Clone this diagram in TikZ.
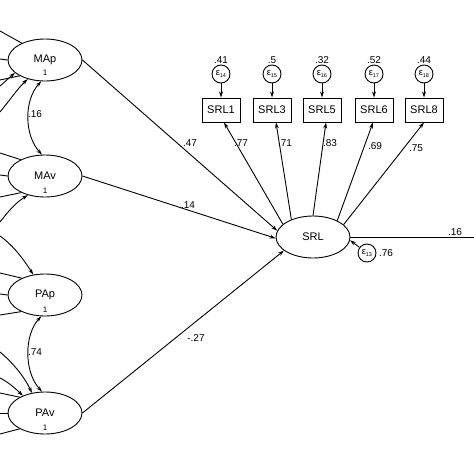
\documentclass[tikz,border=0pt]{standalone}
\usepackage{fontspec}
\setmainfont{Liberation Sans}
\usetikzlibrary{arrows.meta,shapes.geometric}
\newcommand\epslab[1]{ε\kern-0.3pt\raisebox{-0.55ex}{\fontsize{5.5}{5.5}\selectfont #1}}
\begin{document}
\begin{tikzpicture}[x=1pt,y=-1pt,
  line width=0.9pt,
  lat/.style={draw,ellipse,minimum width=74pt,minimum height=42pt,inner sep=0pt,font=\fontsize{11}{12}\selectfont},
  obs/.style={draw,rectangle,minimum width=38pt,minimum height=24pt,inner sep=0pt,font=\fontsize{11}{12}\selectfont},
  err/.style={draw,circle,minimum size=18pt,inner sep=0pt,font=\fontsize{9.5}{9.5}\selectfont},
  coef/.style={font=\fontsize{10}{10}\selectfont,inner sep=0pt},
  one/.style={font=\fontsize{8}{8}\selectfont,inner sep=0pt},
  arr/.style={-{Stealth[length=6pt,width=3.8pt]}},
  darr/.style={{Stealth[length=6pt,width=3.8pt]}-{Stealth[length=6pt,width=3.8pt]}},
]
\useasboundingbox (0,0) rectangle (474,474);

% latent variables on the left
\node[lat] (MAp) at (45,60) {MAp};
\node[lat] (MAv) at (45,176) {MAv};
\node[lat] (PAp) at (45,295) {PAp};
\node[lat] (PAv) at (45,413) {PAv};
\node[one] (oMAp) at (45,73) {1};
\node[one] (oMAv) at (45,191) {1};
\node[one] (oPAp) at (45,310) {1};
\node[one] (oPAv) at (45,428) {1};

% SRL and its indicators
\node[lat] (SRL) at (313,237) {SRL};
\node[obs] (S1) at (221,110) {SRL1};
\node[obs] (S3) at (272,110) {SRL3};
\node[obs] (S5) at (322,110) {SRL5};
\node[obs] (S6) at (374,110) {SRL6};
\node[obs] (S8) at (424,110) {SRL8};
\node[err] (e14) at (221,74) {\epslab{14}};
\node[err] (e15) at (272,74) {\epslab{15}};
\node[err] (e16) at (322,74) {\epslab{16}};
\node[err] (e17) at (374,74) {\epslab{17}};
\node[err] (e18) at (424,74) {\epslab{18}};
\node[err] (e13) at (367,253) {\epslab{13}};
\node[coef] (v14) at (221,60) {.41};
\node[coef] (v15) at (272,60) {.5};
\node[coef] (v16) at (322,60) {.32};
\node[coef] (v17) at (374,60) {.52};
\node[coef] (v18) at (424,60) {.44};
\node[coef] (v13) at (386,253) {.76};

\foreach \e/\s in {e14/S1,e15/S3,e16/S5,e17/S6,e18/S8}
  \draw[arr] (\e) -- (\s);
\draw[arr] (e13) -- (SRL.-5);

% loadings
\draw[arr] (SRL.157) -- ([xshift=3pt]S1.south);
\draw[arr] (SRL.141) -- ([xshift=4pt]S3.south);
\draw[arr] (SRL.90) -- ([xshift=4pt]S5.south);
\draw[arr] (SRL.34) -- ([xshift=-1pt]S6.south);
\draw[arr] (SRL.22) -- (S8.south);
\node[coef] (l1) at (241,143) {.77};
\node[coef] (l3) at (285,143) {.71};
\node[coef] (l5) at (330,143) {.83};
\node[coef] (l6) at (375,146) {.69};
\node[coef] (l8) at (416,148) {.75};

% structural paths
\draw[arr] (MAp.east) -- (SRL.170);
\draw[arr] (MAv.east) -- (SRL.182);
\draw[arr] (PAv.east) -- (SRL.205);
\node[coef] (p1) at (190,143) {.47};
\node[coef] (p2) at (188,205) {.14};
\node[coef] (p3) at (196,338) {-.27};

% outcome path
\coordinate (out) at (474,237);
\draw (SRL.east) -- (out);
\node[coef] (p4) at (455,232) {.16};

% covariances between left latents
\draw[darr] (MAp.-100) .. controls (24,100) and (24,135) .. (MAv.98);
\draw[darr] (PAp.-100) .. controls (24,335) and (24,372) .. (PAv.98);
\node[coef] (c1) at (35,114) {.16};
\node[coef] (c2) at (35,352) {.74};

% partial connectors leaving the picture on the left
\coordinate (a1) at (0,31);  \coordinate (a2) at (0,59);  \coordinate (a3) at (0,80);
\coordinate (b1) at (0,153); \coordinate (b2) at (0,175); \coordinate (b3) at (0,197);
\coordinate (d1) at (0,273); \coordinate (d2) at (0,294); \coordinate (d3) at (0,315);
\coordinate (f1) at (0,393); \coordinate (f2) at (0,413); \coordinate (f3) at (0,434);
\draw (a1) -- (MAp.144); \draw (a2) -- (MAp.180); \draw (a3) -- (MAp.212);
\draw (b1) -- (MAv.146); \draw (b2) -- (MAv.180); \draw (b3) -- (MAv.215);
\draw (d1) -- (PAp.144); \draw (d2) -- (PAp.180); \draw (d3) -- (PAp.215);
\draw (f1) -- (PAv.148); \draw (f2) -- (PAv.180); \draw (f3) -- (PAv.212);

\coordinate (g1) at (0,86);  \coordinate (g2) at (0,112);
\coordinate (h1) at (0,222); \coordinate (h2) at (0,236);
\coordinate (k1) at (0,352); \coordinate (k2) at (0,378);
\draw[arr] (g1) -- (MAp.203);
\draw[arr] (g2) .. controls (10,100) and (18,88) .. (MAp.228);
\draw[arr] (h1) .. controls (8,212) and (14,204) .. (MAv.228);
\draw[arr] (h2) .. controls (14,246) and (24,260) .. (PAp.120);
\draw[arr] (k1) .. controls (12,362) and (24,376) .. (PAv.123);
\draw[arr] (k2) .. controls (8,382) and (15,388) .. (PAv.142);
\end{tikzpicture}
\end{document}
